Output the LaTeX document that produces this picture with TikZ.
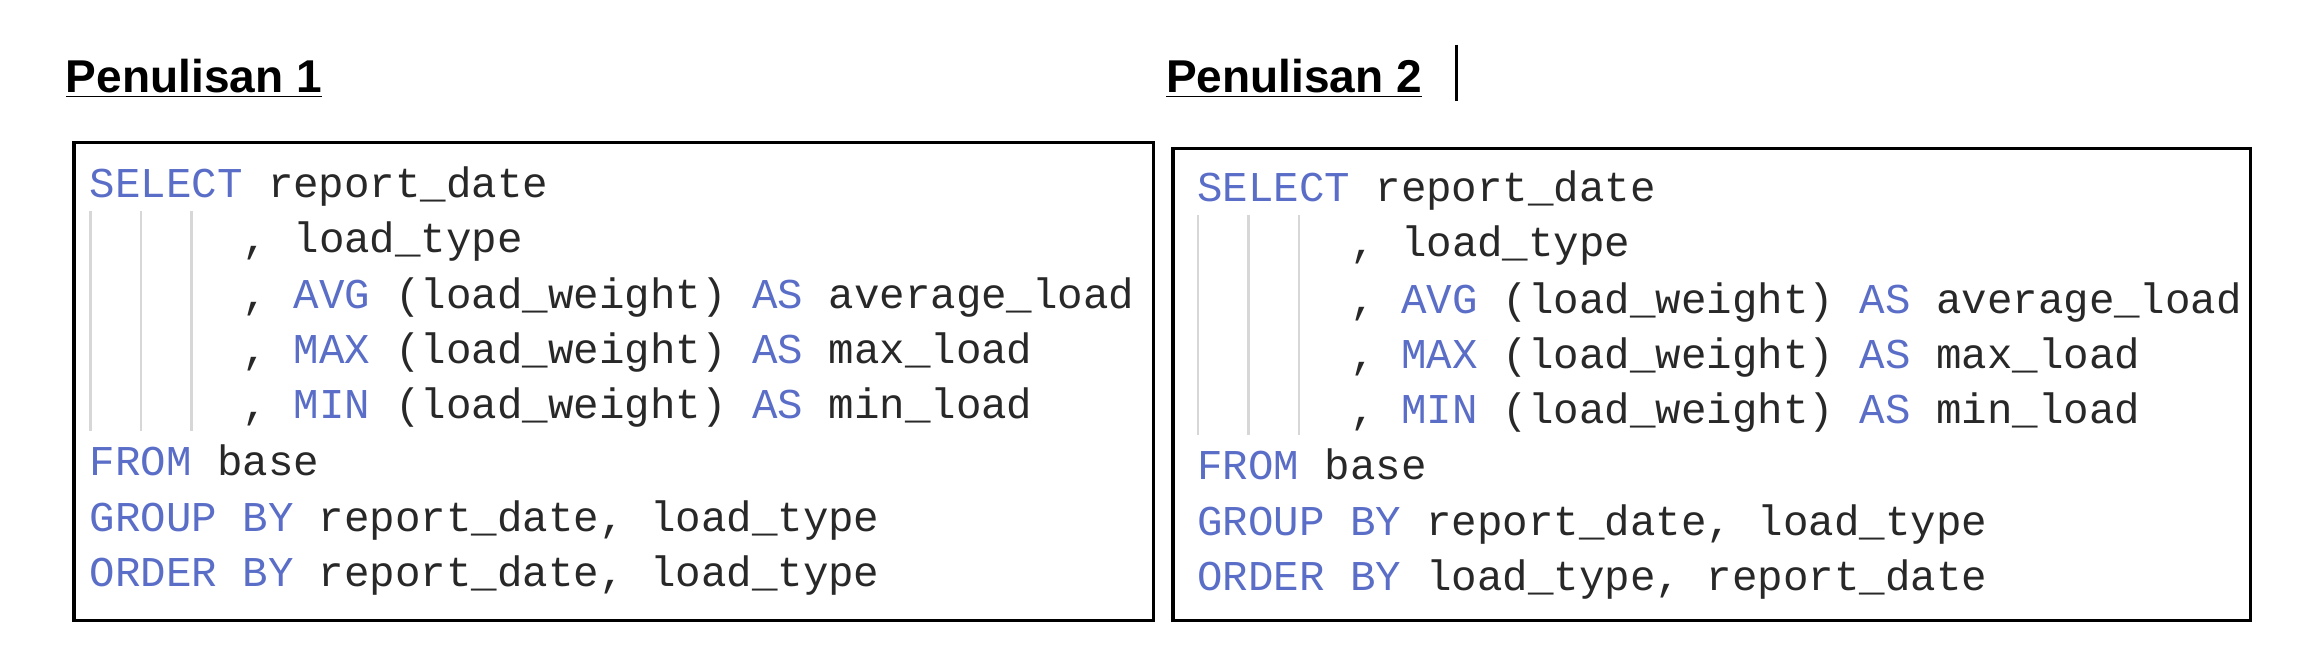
\documentclass[tikz,border=0pt]{standalone}
\usepackage{fontspec}
\setmainfont{Liberation Sans}
\newfontfamily\codefont{Liberation Mono}
\definecolor{kw}{RGB}{90,110,200}
\definecolor{tx}{RGB}{40,40,40}
\definecolor{guide}{RGB}{215,215,215}
\begin{document}
\begin{tikzpicture}[x=0.5pt,y=-0.5pt,
  code/.style={anchor=base west,inner sep=0pt,text=tx,font=\codefont\fontsize{14.3}{16}\selectfont},
  title/.style={anchor=base west,inner sep=0pt,font=\bfseries\fontsize{15.5}{18}\selectfont},
  frame/.style={draw,line width=1.2pt},
  guideline/.style={draw=guide,line width=0.8pt}]
\useasboundingbox (0,0) rectangle (1560,448);
\node[title] (t1) at (44,62) {\underline{Penulisan 1}};
\node[title] (t2) at (785,62) {\underline{Penulisan 2}};
\coordinate (c1) at (981,30); \coordinate (c2) at (981,68);
\draw[line width=1.2pt] (c1) -- (c2);
\newcommand{\K}[1]{\textcolor{kw}{#1}}
\foreach \ox/\oy/\last [count=\i] in {0/0/{report\_date, load\_type},746/3/{load\_type, report\_date}}{
  \begin{scope}[shift={(\ox,\oy)}]
  \coordinate (g1a\i) at (61,142); \coordinate (g1b\i) at (61,290);
  \coordinate (g2a\i) at (95,142); \coordinate (g2b\i) at (95,290);
  \coordinate (g3a\i) at (129,142); \coordinate (g3b\i) at (129,290);
  \draw[guideline] (g1a\i)--(g1b\i) (g2a\i)--(g2b\i) (g3a\i)--(g3b\i);
  \node[code] (l1\i) at (60,133) {\K{SELECT} report\_date};
  \node[code] (l2\i) at (163,170) {, load\_type};
  \node[code] (l3\i) at (163,208) {, \K{AVG} (load\_weight) \K{AS} average\_load};
  \node[code] (l4\i) at (163,245) {, \K{MAX} (load\_weight) \K{AS} max\_load};
  \node[code] (l5\i) at (163,282) {, \K{MIN} (load\_weight) \K{AS} min\_load};
  \node[code] (l6\i) at (60,320) {\K{FROM} base};
  \node[code] (l7\i) at (60,358) {\K{GROUP BY} report\_date, load\_type};
  \node[code] (l8\i) at (60,395) {\K{ORDER BY} \last};
  \end{scope}}
\draw[frame] (50,96) rectangle (777,418);
\draw[frame] (790,100) rectangle (1516,418);
\end{tikzpicture}
\end{document}
